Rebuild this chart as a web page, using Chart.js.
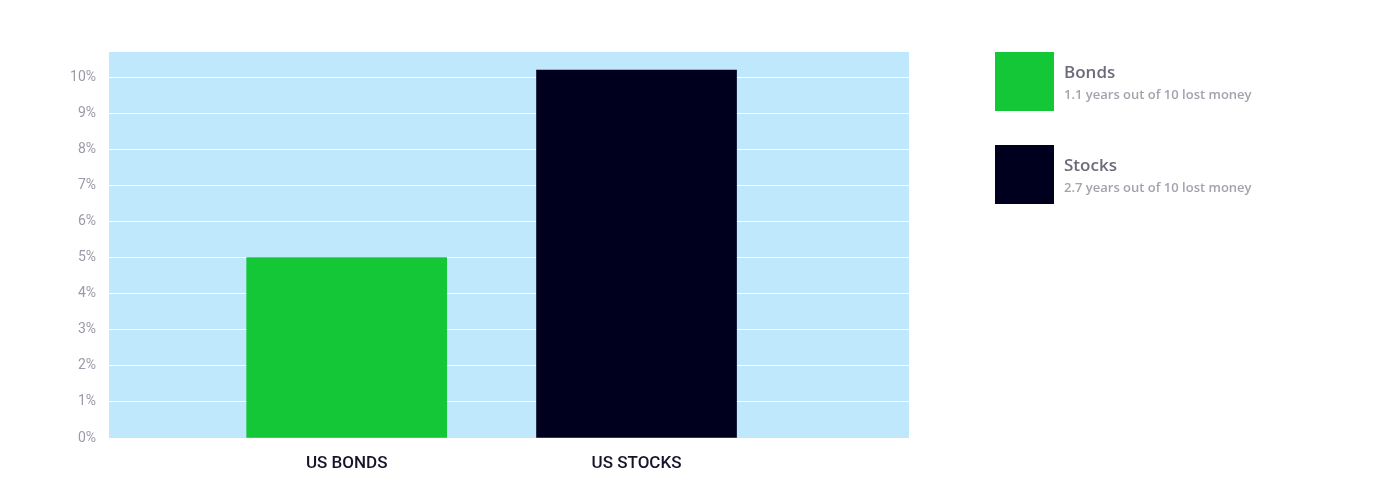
<!DOCTYPE html>
<html>
<head>
<meta charset="utf-8">
<script src="https://cdn.jsdelivr.net/npm/chart.js@4.4.1/dist/chart.umd.min.js"></script>
<style>
  body { margin: 0; background: #fff; }
  #wrap { position: relative; width: 1400px; height: 500px; }
  #legend { position: absolute; left: 995px; top: 52px; font-family: "Open Sans", sans-serif; }
  .item { display: flex; height: 59px; margin-bottom: 34px; }
  .sw { width: 59px; height: 59px; }
  .txt { margin-left: 10px; padding-top: 9px; }
  .t { font-size: 17px; color: #6b6b7c; line-height: 22px; font-weight: 600; }
  .s { font-size: 13px; color: #a3a3ae; line-height: 23px; font-weight: 600; }
</style>
</head>
<body>
<div id="wrap">
  <canvas id="chart" width="1400" height="500"></canvas>
  <div id="legend"></div>
</div>
<script>
// chart data
const categories = ['US BONDS', 'US STOCKS'];
const xPositions = [1, 2];
const returns = [5.0, 10.2];
const barColors = ['#14c736', '#00001e'];
const legendNames = ['Bonds', 'Stocks'];
const legendNotes = ['1.1 years out of 10 lost money', '2.7 years out of 10 lost money'];

// html legend on the right
const legend = document.getElementById('legend');
legendNames.forEach((name, i) => {
    const item = document.createElement('div');
    item.className = 'item';
    item.innerHTML = `<div class="sw" style="background:${barColors[i]}"></div>
        <div class="txt"><div class="t">${name}</div><div class="s">${legendNotes[i]}</div></div>`;
    legend.appendChild(item);
});

// light blue plot background
const plotBackground = {
    id: 'plotBackground',
    beforeDraw(chart) {
        const { ctx, chartArea: a } = chart;
        ctx.save();
        ctx.fillStyle = '#c0e8fc';
        ctx.fillRect(a.left, a.top, a.right - a.left, a.bottom - a.top);
        ctx.restore();
    }
};

const ctx = document.getElementById('chart').getContext('2d');
new Chart(ctx, {
    type: 'bar',
    data: {
        datasets: [{
            data: xPositions.map((x, i) => ({ x: x, y: returns[i] })),
            backgroundColor: barColors,
            barThickness: 200
        }]
    },
    options: {
        responsive: false,
        animation: false,
        devicePixelRatio: 1,
        layout: { padding: { top: 52, right: 491, left: 0, bottom: 0 } },
        plugins: { legend: { display: false }, tooltip: { enabled: false } },
        scales: {
            x: {
                type: 'linear',
                min: 0.18,
                max: 2.94,
                offset: false,
                bounds: 'data',
                afterBuildTicks: scale => { scale.ticks = xPositions.map(v => ({ value: v })); },
                afterFit: scale => { scale.height = 62; },
                grid: { display: false },
                border: { display: false },
                ticks: {
                    padding: 8,
                    color: '#14142a',
                    font: { family: 'Roboto', size: 17, weight: '500' },
                    callback: v => categories[xPositions.indexOf(v)]
                }
            },
            y: {
                min: 0,
                max: 10.7,
                afterBuildTicks: scale => { scale.ticks = scale.ticks.filter(t => Number.isInteger(t.value)); },
                afterFit: scale => { scale.width = 109; },
                grid: {
                    color: c => (c.tick && c.tick.value === 0) ? 'rgba(0,0,0,0)' : '#ffffff',
                    drawTicks: false
                },
                border: { display: false },
                ticks: {
                    stepSize: 1,
                    padding: 13,
                    color: '#9a9aa8',
                    font: { family: 'Roboto', size: 14 },
                    callback: v => v + '%'
                }
            }
        }
    },
    plugins: [plotBackground]
});
</script>
</body>
</html>
